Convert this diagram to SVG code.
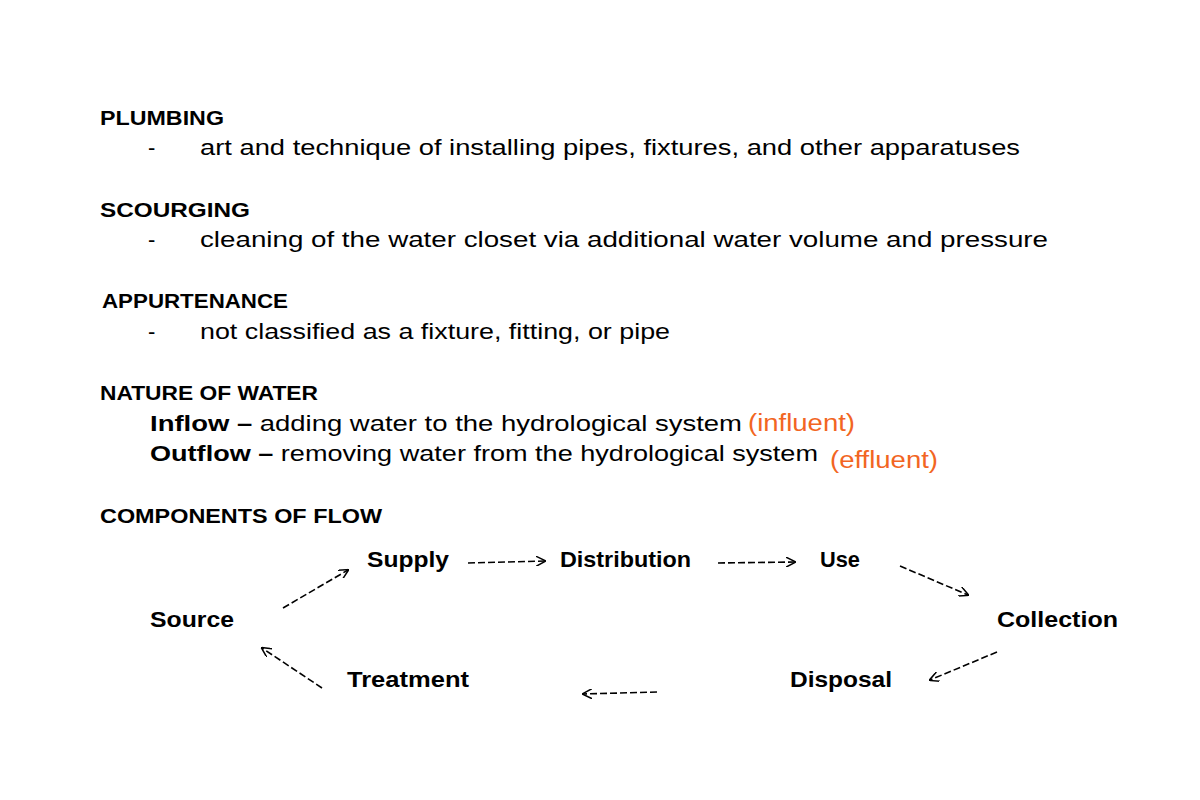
<svg xmlns="http://www.w3.org/2000/svg" width="1200" height="800" viewBox="0 0 1200 800">
<style>
text{font-family:"Liberation Sans",Arial,sans-serif;font-size:22px;fill:#000}
.h{font-weight:bold;font-size:20px}
.n{font-weight:bold;font-size:22px}
.o{fill:#f26522;font-size:23px}
.c{stroke:#000;stroke-width:1.6;fill:none;stroke-dasharray:7 3}
</style>
<defs><marker id="a" viewBox="0 0 10 10" refX="9" refY="5" markerWidth="10" markerHeight="10" orient="auto" markerUnits="userSpaceOnUse"><path d="M0 0L10 5L0 10" fill="none" stroke="#000" stroke-width="1.5"/></marker></defs>
<rect width="1200" height="800" fill="#fff"/>
<text class="h" x="100" y="125" textLength="124" lengthAdjust="spacingAndGlyphs">PLUMBING</text>
<text x="148" y="155">-</text>
<text x="200" y="155" textLength="820" lengthAdjust="spacingAndGlyphs">art and technique of installing pipes, fixtures, and other apparatuses</text>
<text class="h" x="100" y="217" textLength="150" lengthAdjust="spacingAndGlyphs">SCOURGING</text>
<text x="148" y="247">-</text>
<text x="200" y="247" textLength="848" lengthAdjust="spacingAndGlyphs">cleaning of the water closet via additional water volume and pressure</text>
<text class="h" x="102" y="308" textLength="186" lengthAdjust="spacingAndGlyphs">APPURTENANCE</text>
<text x="148" y="339">-</text>
<text x="200" y="339" textLength="470" lengthAdjust="spacingAndGlyphs">not classified as a fixture, fitting, or pipe</text>
<text class="h" x="100" y="400" textLength="218" lengthAdjust="spacingAndGlyphs">NATURE OF WATER</text>
<text x="150" y="431" textLength="592" lengthAdjust="spacingAndGlyphs"><tspan font-weight="bold">Inflow –</tspan> adding water to the hydrological system</text>
<text class="o" x="748" y="431" textLength="107" lengthAdjust="spacingAndGlyphs">(influent)</text>
<text x="150" y="461" textLength="668" lengthAdjust="spacingAndGlyphs"><tspan font-weight="bold">Outflow –</tspan> removing water from the hydrological system</text>
<text class="o" x="830" y="468" textLength="108" lengthAdjust="spacingAndGlyphs">(effluent)</text>
<text class="h" x="100" y="523" textLength="282" lengthAdjust="spacingAndGlyphs">COMPONENTS OF FLOW</text>
<g id="source"><text class="n" x="150" y="627" textLength="84" lengthAdjust="spacingAndGlyphs">Source</text></g>
<g id="supply"><text class="n" x="367" y="567" textLength="82" lengthAdjust="spacingAndGlyphs">Supply</text></g>
<g id="distribution"><text class="n" x="560" y="567" textLength="131" lengthAdjust="spacingAndGlyphs">Distribution</text></g>
<g id="use"><text class="n" x="820" y="567" textLength="40" lengthAdjust="spacingAndGlyphs">Use</text></g>
<g id="collection"><text class="n" x="997" y="627" textLength="121" lengthAdjust="spacingAndGlyphs">Collection</text></g>
<g id="disposal"><text class="n" x="790" y="687" textLength="102" lengthAdjust="spacingAndGlyphs">Disposal</text></g>
<g id="treatment"><text class="n" x="347" y="687" textLength="122" lengthAdjust="spacingAndGlyphs">Treatment</text></g>
<g id="connectors">
<line class="c" x1="283" y1="608" x2="348" y2="570" marker-end="url(#a)"/>
<line class="c" x1="468" y1="563" x2="545" y2="561" marker-end="url(#a)"/>
<line class="c" x1="718" y1="563" x2="795" y2="562" marker-end="url(#a)"/>
<line class="c" x1="900" y1="566" x2="968" y2="595" marker-end="url(#a)"/>
<line class="c" x1="997" y1="652" x2="930" y2="680" marker-end="url(#a)"/>
<line class="c" x1="657" y1="692" x2="583" y2="694" marker-end="url(#a)"/>
<line class="c" x1="322" y1="688" x2="262" y2="648" marker-end="url(#a)"/>
</g>
</svg>
